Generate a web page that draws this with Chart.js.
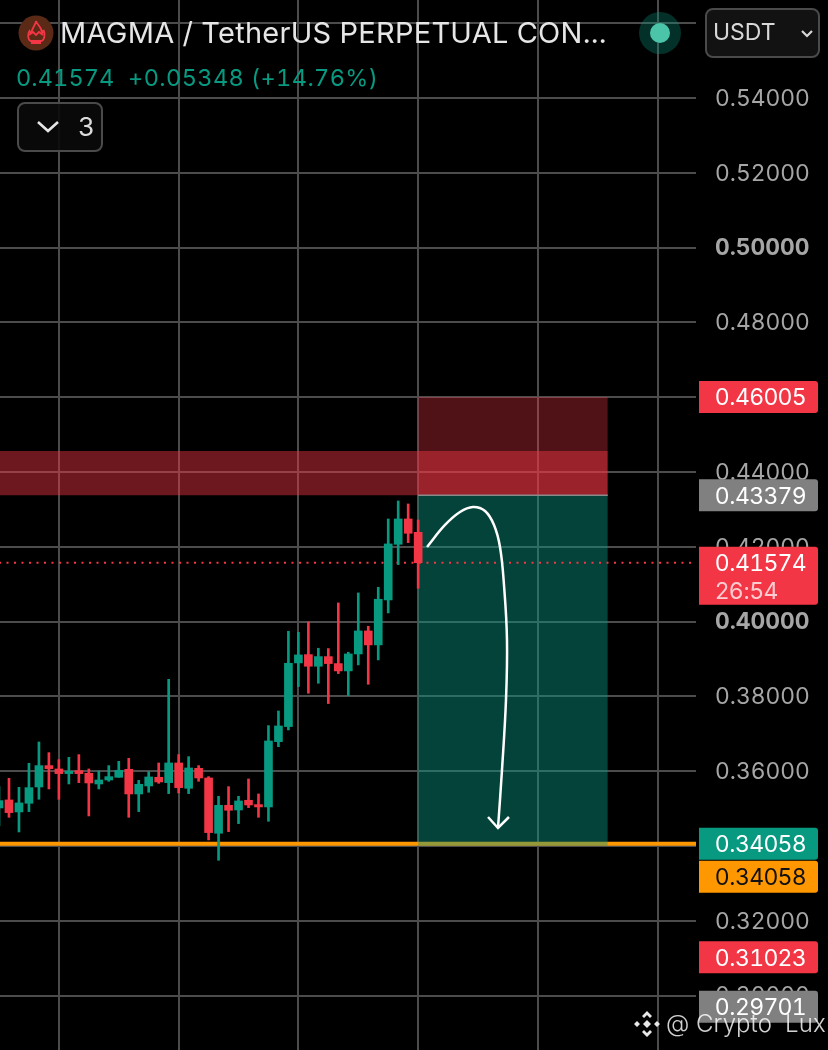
<!DOCTYPE html>
<html>
<head>
<meta charset="utf-8">
<script src="https://cdn.jsdelivr.net/npm/chart.js@4"></script>
<style>
  html, body { margin: 0; padding: 0; background: #000; }
  #wrap { position: relative; width: 828px; height: 1050px; overflow: hidden; font-family: Inter, sans-serif; font-variant-numeric: tabular-nums; }
  canvas { position: absolute; left: 0; top: 0; }
  .abs { position: absolute; white-space: nowrap; }
  .btn { background: #121212; border: 2px solid #4a4a4a; border-radius: 8px; box-sizing: border-box; }
</style>
</head>
<body>
<div id="wrap">
  <canvas id="myChart" width="828" height="1050"></canvas>

  <svg class="abs" style="left:18px;top:15px" width="36" height="36" viewBox="0 0 36 36">
    <circle cx="18" cy="18" r="17.5" fill="#5a2a17"/>
    <path d="M18 6c1 4 6 6 6 12 1-1 1.500-2 1.500-3 2 4 1 10-2 11h-11c-3-2-3-7-1-10 .5 1 1 2 2 2 0-5 4-7 4.500-12z" fill="none" stroke="#f23645" stroke-width="1.800"/>
    <path d="M11 20l4-3 3 3 3-3 4 3M13 28h10" fill="none" stroke="#f23645" stroke-width="1.800"/>
  </svg>
  <div class="abs" style="left:60px;top:15px;font-size:29px;line-height:36px;color:#e6e6e6;letter-spacing:.27px">MAGMA / TetherUS PERPETUAL CON...</div>
  <div class="abs" style="left:16px;top:64px;font-size:23.5px;line-height:28px;color:#089981;letter-spacing:.1px">0.41574</div>
  <div class="abs" style="left:128px;top:64px;font-size:23.5px;line-height:28px;color:#089981;letter-spacing:.4px">+0.05348 (+14.76%)</div>

  <div class="abs btn" style="left:17px;top:102px;width:86px;height:50px;background:rgba(10,10,10,.9)"></div>
  <svg class="abs" style="left:36px;top:120px" width="24" height="14"><path d="M2 2l10 9 10-9" fill="none" stroke="#e6e6e6" stroke-width="2.600"/></svg>
  <div class="abs" style="left:78px;top:112px;font-size:26px;line-height:30px;color:#dcdcdc">3</div>

  <svg class="abs" style="left:638px;top:11px" width="44" height="44">
    <circle cx="22" cy="22" r="21" fill="#089981" fill-opacity=".32"/>
    <circle cx="22" cy="22" r="10" fill="#4cc4a9"/>
  </svg>

  <div class="abs btn" style="left:705px;top:8px;width:115px;height:50px"></div>
  <div class="abs" style="left:713px;top:18px;font-size:23px;line-height:28px;color:#d8d8d8">USDT</div>
  <svg class="abs" style="left:800px;top:29px" width="14" height="10"><path d="M2 2l5 5 5-5" fill="none" stroke="#d8d8d8" stroke-width="2.200"/></svg>

  <svg class="abs" style="left:633px;top:1010px" width="28" height="28" viewBox="0 0 28 28" fill="#e8e8e8">
    <path d="M14 1l5 5-2 2-3-3-3 3-2-2zM14 27l-5-5 2-2 3 3 3-3 2 2zM4 11l3 3-3 3-3-3zM24 11l3 3-3 3-3-3zM14 10l4 4-4 4-4-4z"/>
  </svg>
  <div class="abs" style="left:666px;top:1009px;font-size:24px;line-height:30px;font-weight:300;color:rgba(255,255,255,.82);white-space:pre;letter-spacing:.1px">@ Crypto  Lux</div>
</div>

<script>
// candles, oldest first
const opens = [0.35017,0.35231,0.34910,0.35142,0.35578,0.36149,0.36059,0.35935,0.36015,0.35944,
  0.35658,0.35765,0.35837,0.36051,0.35391,0.35605,0.35837,0.35694,0.36220,0.35543,
  0.36077,0.35819,0.34340,0.35088,0.34963,0.35222,0.35106,0.35044,0.36790,0.37193,
  0.38895,0.39117,0.38806,0.39064,0.38877,0.38681,0.39135,0.39750,0.39376,0.40579,
  0.42067,0.42744,0.42387];
const highs = [0.35587,0.35810,0.35569,0.36211,0.36781,0.36496,0.36309,0.36371,0.36443,0.36059,
  0.36006,0.36149,0.36264,0.36345,0.35756,0.35988,0.36220,0.38456,0.36443,0.36389,
  0.36149,0.35854,0.35329,0.35587,0.35329,0.35792,0.35391,0.37218,0.37610,0.39741,
  0.39714,0.39991,0.39287,0.39278,0.40499,0.39180,0.40766,0.39875,0.40917,0.42744,
  0.43225,0.43145,0.42717];
const lows = [0.34545,0.34767,0.34375,0.34919,0.35249,0.35525,0.35249,0.35658,0.35694,0.34803,
  0.35525,0.35730,0.35837,0.34767,0.34919,0.35436,0.35676,0.35400,0.35418,0.35400,
  0.35730,0.34162,0.33618,0.34384,0.34598,0.35026,0.34767,0.34661,0.36656,0.37102,
  0.38262,0.38084,0.38351,0.37808,0.38610,0.38022,0.38841,0.38324,0.38975,0.40231,
  0.41523,0.42111,0.40891];
const closes = [0.35213,0.34892,0.35151,0.35560,0.36149,0.36068,0.35935,0.35997,0.35935,0.35685,
  0.35765,0.35854,0.36024,0.35391,0.35650,0.35846,0.35712,0.36220,0.35560,0.36086,
  0.35819,0.34358,0.35088,0.34955,0.35204,0.35097,0.35044,0.36808,0.37209,0.38886,
  0.39109,0.38806,0.39064,0.38877,0.38681,0.39135,0.39750,0.39376,0.40597,0.42076,
  0.42744,0.42361,0.41574];

const priceTicks = [0.30,0.32,0.34,0.36,0.38,0.40,0.42,0.44,0.46,0.48,0.50,0.52,0.54,0.56];
const boldTicks = [0.40,0.50];
const timeGrid = [6,18,30,42,54,66];

const lastPrice = 0.41574;
const targetPrice = 0.34058;
const stopPrice = 0.46005;
const entryPrice = 0.43379;
const bandTop = 0.44561;
const boxBottom = 0.34005; // the box runs a little past the orange line
const boxStart = 42;
const boxEnd = 61;

const arrowX = [42.89,44.69,46.19,47.49,48.70,49.60,50.20,50.60,50.90,50.80,50.40,50.00];
const arrowY = [0.41995,0.42583,0.42930,0.43064,0.42957,0.42583,0.41995,0.40979,0.39508,0.37904,0.36032,0.34481];
const headX = [49.00,50.00,51.10];
const headY = [0.34775,0.34481,0.34775];

const tagValues = [0.46005,0.43379,0.41574,0.34058,0.34058,0.31023,0.29701];
const tagColors = ['#f23645','#808080','#f23645','#089981','#ff9800','#f23645','#808080'];

const UP = '#089981';
const DOWN = '#f23645';
const candleColor = closes.map((c, i) => (c >= opens[i] ? UP : DOWN));
const zip = (xs, ys) => xs.map((x, i) => ({ x: x, y: ys[i] }));
const span = (from, to, y) => [{ x: from, y: y }, { x: to, y: y }];

const zone = (from, to, top, bottom, color, order) => ({
  type: 'line', data: span(from, to, top), borderWidth: 0, pointRadius: 0,
  fill: { value: bottom }, backgroundColor: color, order: order
});
const rule = (data, color, width, order, dash) => ({
  type: 'line', data: data, borderColor: color, borderWidth: width, pointRadius: 0,
  borderDash: dash || [], fill: false, order: order
});

// canvas has no tabular figures, so step the digits by hand
function drawFigures(c, text, x, y) {
  for (const ch of text) {
    const w = c.measureText(ch).width;
    const cell = ch === '.' || ch === ':' ? w : 14.2;
    c.fillText(ch, x + (cell - w) / 2, y);
    x += cell;
  }
}

// price tags on the axis, they sit on top of everything
const priceTags = {
  id: 'priceTags',
  afterDraw(chart) {
    const c = chart.ctx;
    const y = chart.scales.y;
    tagValues.forEach((v, i) => {
      let mid = y.getPixelForValue(v);
      let top = mid - 16, h = 32;
      if (i === 2) { h = 58; }
      if (i === 4) { top += 33; }
      c.fillStyle = tagColors[i];
      c.beginPath();
      c.roundRect(699, top, 119, h, [0, 3, 3, 0]);
      c.fill();
      c.font = '23px Inter';
      c.textAlign = 'left';
      c.textBaseline = 'middle';
      c.fillStyle = i === 4 ? '#111' : '#fff';
      drawFigures(c, v.toFixed(5), 715, top + 17.5);
      if (i === 2) {
        c.fillStyle = 'rgba(255,255,255,.75)';
        drawFigures(c, '26:54', 715, top + 45);
      }
    });
  }
};

new Chart(document.getElementById('myChart'), {
  type: 'bar',
  plugins: [priceTags],
  data: {
    datasets: [
      rule(span(0, 70, targetPrice), '#ff9800', 4, 12),
      zone(0, boxEnd, bandTop, entryPrice, 'rgba(242,54,69,.45)', 11),
      zone(boxStart, boxEnd, stopPrice, entryPrice, 'rgba(242,54,69,.33)', 10),
      zone(boxStart, boxEnd, entryPrice, boxBottom, 'rgba(8,153,129,.44)', 9),
      rule(span(boxStart, boxEnd, entryPrice), '#8a8a8a', 1.5, 8),
      rule(span(0, 70, lastPrice), DOWN, 2, 7, [2, 5.5]),
      {
        data: zip(opens.map((_, i) => i), lows.map((l, i) => [l, highs[i]])),
        backgroundColor: candleColor, barThickness: 2, order: 6
      },
      {
        data: zip(opens.map((_, i) => i), opens.map((o, i) => [o, closes[i]])),
        backgroundColor: candleColor, barThickness: 8, order: 5
      },
      Object.assign(rule(zip(arrowX, arrowY), '#ffffff', 2.5, 2), { tension: 0.4 }),
      rule(zip(headX, headY), '#ffffff', 2.5, 1)
    ]
  },
  options: {
    responsive: false,
    animation: false,
    devicePixelRatio: 1,
    layout: { padding: 0, autoPadding: false },
    plugins: { legend: { display: false }, tooltip: { enabled: false } },
    datasets: { bar: { grouped: false } },
    scales: {
      x: {
        type: 'linear', min: 0.1, max: 69.84, offset: false,
        afterBuildTicks(s) { s.ticks = timeGrid.map(v => ({ value: v })); },
        ticks: { display: false },
        border: { display: false },
        grid: { color: '#4c4c4c', lineWidth: 2, drawTicks: false, offset: false }
      },
      y: {
        type: 'linear', position: 'right', min: 0.28545, max: 0.56620,
        afterFit(s) { s.width = 132; s.paddingTop = 0; s.paddingBottom = 0; },
        afterBuildTicks(s) { s.ticks = priceTicks.map(v => ({ value: v })); },
        border: { display: false },
        grid: { color: '#4c4c4c', lineWidth: 2, drawTicks: false },
        ticks: {
          padding: 19,
          labelOffset: 1,
          color: '#a6a6a6',
          font: ctx => ({
            family: 'Inter', size: 22.8,
            weight: ctx.tick && boldTicks.includes(ctx.tick.value) ? 'bold' : 'normal'
          }),
          callback: v => v.toFixed(5)
        }
      }
    }
  }
});
</script>
</body>
</html>
